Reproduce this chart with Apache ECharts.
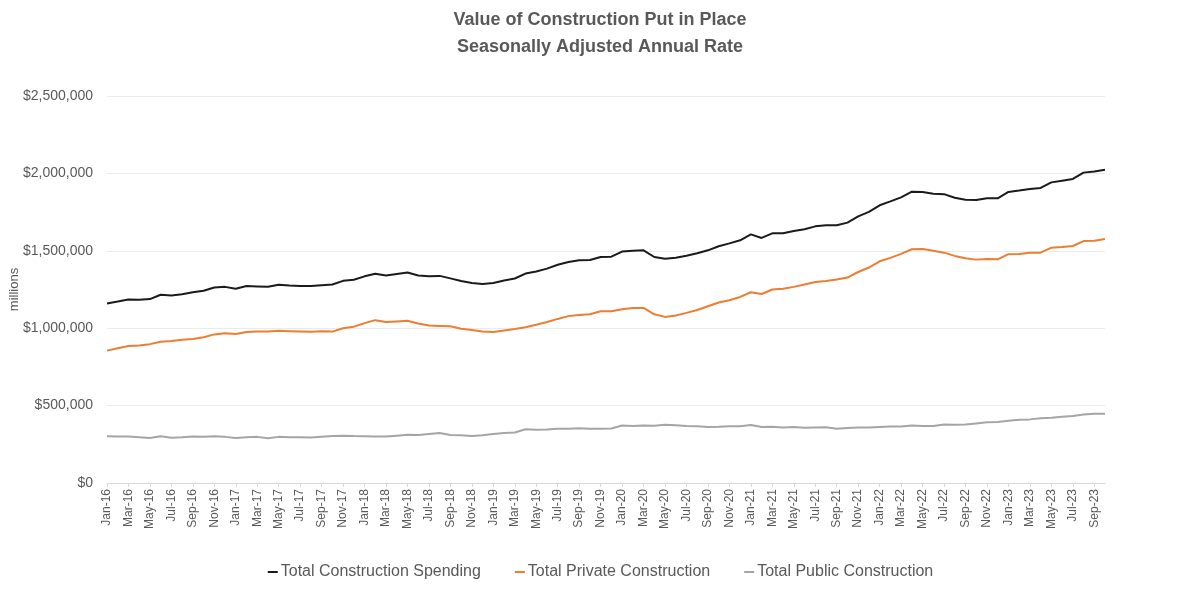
<!DOCTYPE html>
<html>
<head>
<meta charset="utf-8">
<title>Value of Construction Put in Place</title>
<script src="https://cdn.jsdelivr.net/npm/echarts@6/dist/echarts.min.js"></script>
<style>
    html, body { margin: 0; padding: 0; background: #fff; }
    #main { width: 1200px; height: 591px; }
</style>
</head>
<body>
<div id="main"></div>
<script>
// 月份标签 Jan-16 ... Oct-23
const monthNames = ['Jan', 'Feb', 'Mar', 'Apr', 'May', 'Jun', 'Jul', 'Aug', 'Sep', 'Oct', 'Nov', 'Dec']
const months = []
for (let y = 16; y <= 23; y++) {
    monthNames.forEach((m, i) => {
        if (y == 23 && i > 9) return
        months.push(m + '-' + y)
    })
}

// 数据 (millions, SAAR)
const totalSpending = [
    1160000, 1172000, 1186000, 1184000, 1188000, 1216000, 1212000, 1220000, 1232000, 1242000, 1263000, 1267000,
    1255000, 1272000, 1270000, 1268000, 1281000, 1276000, 1273000, 1272000, 1278000, 1282000, 1306000, 1313000,
    1335000, 1352000, 1340000, 1350000, 1360000, 1340000, 1335000, 1338000, 1322000, 1305000, 1292000, 1286000,
    1292000, 1308000, 1321000, 1353000, 1366000, 1385000, 1410000, 1428000, 1439000, 1441000, 1460000, 1462000,
    1495000, 1500000, 1503000, 1460000, 1449000, 1455000, 1468000, 1484000, 1503000, 1529000, 1548000, 1568000,
    1606000, 1583000, 1613000, 1613000, 1628000, 1639000, 1658000, 1665000, 1665000, 1682000, 1722000, 1751000,
    1794000, 1819000, 1845000, 1882000, 1880000, 1869000, 1866000, 1843000, 1830000, 1828000, 1839000, 1839000,
    1880000, 1889000, 1899000, 1906000, 1942000, 1953000, 1964000, 2005000, 2013000, 2024000
]
const privateConstruction = [
    855000, 870000, 885000, 888000, 897000, 912000, 918000, 925000, 930000, 942000, 960000, 968000,
    962000, 976000, 978000, 979000, 983000, 981000, 979000, 977000, 980000, 978000, 1000000, 1010000,
    1033000, 1052000, 1040000, 1044000, 1048000, 1030000, 1018000, 1015000, 1012000, 997000, 988000, 978000,
    975000, 985000, 995000, 1006000, 1022000, 1040000, 1060000, 1078000, 1085000, 1090000, 1110000, 1110000,
    1123000, 1131000, 1131000, 1090000, 1073000, 1082000, 1099000, 1118000, 1142000, 1166000, 1181000, 1202000,
    1232000, 1221000, 1250000, 1255000, 1267000, 1282000, 1299000, 1305000, 1314000, 1327000, 1363000, 1392000,
    1432000, 1454000, 1480000, 1510000, 1512000, 1501000, 1488000, 1467000, 1452000, 1443000, 1447000, 1445000,
    1478000, 1480000, 1488000, 1488000, 1520000, 1525000, 1531000, 1563000, 1565000, 1576000
]
const publicConstruction = [
    302000, 301000, 300000, 296000, 291000, 302000, 293000, 295000, 300000, 299000, 302000, 298000,
    290000, 296000, 298000, 289000, 298000, 296000, 295000, 294000, 299000, 303000, 306000, 303000,
    302000, 300000, 300000, 306000, 312000, 310000, 317000, 323000, 310000, 308000, 304000, 308000,
    317000, 323000, 326000, 347000, 344000, 345000, 350000, 350000, 354000, 351000, 350000, 352000,
    372000, 369000, 372000, 370000, 376000, 373000, 369000, 366000, 361000, 363000, 367000, 366000,
    374000, 362000, 363000, 358000, 361000, 357000, 359000, 360000, 351000, 355000, 359000, 359000,
    362000, 365000, 365000, 372000, 368000, 368000, 378000, 376000, 378000, 385000, 392000, 394000,
    402000, 409000, 411000, 418000, 422000, 428000, 433000, 442000, 448000, 448000
]

const gray = '#595959'
const myChart = echarts.init(document.getElementById('main'))

const option = {
    animation: false,
    backgroundColor: '#fff',
    title: {
        text: 'Value of Construction Put in Place\nSeasonally Adjusted Annual Rate',
        left: 'center',
        top: 2,
        textStyle: {
            fontFamily: 'Liberation Sans, Arial, sans-serif',
            fontSize: 18,
            fontWeight: 'bold',
            color: gray,
            lineHeight: 27
        }
    },
    legend: {
        bottom: 6,
        left: 'center',
        itemGap: 33,
        itemWidth: 10,
        itemHeight: 2,
        textStyle: { color: gray, fontSize: 16, fontFamily: 'Liberation Sans, Arial, sans-serif', padding: [0, 0, 0, -2] },
        data: ['Total Construction Spending', 'Total Private Construction', 'Total Public Construction']
    },
    grid: { left: 107, right: 95, top: 96, bottom: 108, outerBoundsMode: 'none' },
    xAxis: {
        type: 'category',
        boundaryGap: false,
        data: months,
        axisLine: { lineStyle: { color: '#d9d9d9' } },
        axisTick: { show: true, interval: 1, length: 4, lineStyle: { color: '#d9d9d9' } },
        axisLabel: {
            interval: 1,
            rotate: 90,
            color: gray,
            fontSize: 12,
            fontFamily: 'Liberation Sans, Arial, sans-serif',
            margin: 6
        }
    },
    yAxis: {
        type: 'value',
        min: 0,
        max: 2500000,
        interval: 500000,
        name: 'millions',
        nameLocation: 'middle',
        nameGap: 86,
        nameMoveOverlap: false,
        nameTextStyle: { color: gray, fontSize: 13, fontFamily: 'Liberation Sans, Arial, sans-serif' },
        axisLine: { show: false },
        axisTick: { show: false },
        splitLine: { lineStyle: { color: '#ebebeb' } },
        axisLabel: {
            color: gray,
            fontSize: 14,
            fontFamily: 'Liberation Sans, Arial, sans-serif',
            margin: 14,
            formatter: v => '$' + v.toLocaleString('en-US')
        }
    },
    series: [
        {
            name: 'Total Construction Spending',
            type: 'line',
            symbol: 'none',
            data: totalSpending,
            lineStyle: { color: '#1a1a1a', width: 2 },
            itemStyle: { color: '#1a1a1a' }
        },
        {
            name: 'Total Private Construction',
            type: 'line',
            symbol: 'none',
            data: privateConstruction,
            lineStyle: { color: '#ed7d31', width: 2 },
            itemStyle: { color: '#ed7d31' }
        },
        {
            name: 'Total Public Construction',
            type: 'line',
            symbol: 'none',
            data: publicConstruction,
            lineStyle: { color: '#a5a5a5', width: 2 },
            itemStyle: { color: '#a5a5a5' }
        }
    ]
}

myChart.setOption(option)
</script>
</body>
</html>
